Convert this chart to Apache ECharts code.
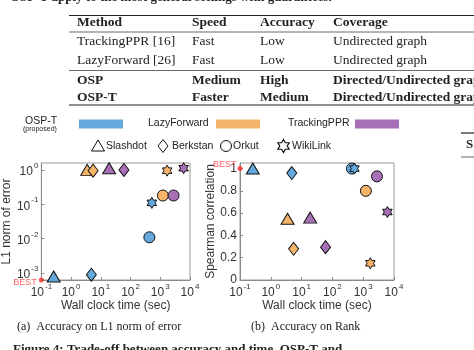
<!DOCTYPE html>
<html><head><meta charset="utf-8">
<script src="https://cdn.jsdelivr.net/npm/echarts@6/dist/echarts.min.js"></script>
<style>html,body{margin:0;padding:0;background:#fff;}#c{width:474px;height:350px;}</style>
</head><body><div id="c"></div>
<script>
// ---- data ----
const methods = ['OSP-T', 'LazyForward', 'TrackingPPR'];
const datasets = ['Slashdot', 'Berkstan', 'Orkut', 'WikiLink'];
// wall clock time (sec) per dataset [Slashdot, Berkstan, Orkut, WikiLink]
const timeOSPT = [0.26, 4.8, 430, 520];
const timeLazy = [3.5, 5.5, 1220, 1700];
const timeTracking = [19, 60, 2800, 6100];
// L1 norm of error
const l1OSPT = [0.0008, 0.0009, 0.011, 0.11];
const l1Lazy = [1.0, 0.95, 0.18, 0.95];
const l1Tracking = [1.12, 1.0, 0.18, 1.12];
// Spearman correlation
const rankOSPT = [1.0, 0.96, 1.0, 1.0];
const rankLazy = [0.55, 0.28, 0.80, 0.15];
const rankTracking = [0.56, 0.295, 0.93, 0.61];
// "BEST" reference points
const bestL1 = [0.1, 0.000631];
const bestRank = [0.1, 1.0];
// table
const tableHeader = ['Method', 'Speed', 'Accuracy', 'Coverage'];
const tableRows = [
  ['TrackingPPR [16]', 'Fast', 'Low', 'Undirected graph'],
  ['LazyForward [26]', 'Fast', 'Low', 'Undirected graph'],
  ['OSP', 'Medium', 'High', 'Directed/Undirected graph'],
  ['OSP-T', 'Faster', 'Medium', 'Directed/Undirected graph']
];
const captionA = '(a)  Accuracy on L1 norm of error';
const captionB = '(b)  Accuracy on Rank';

// ---- styles ----
const colors = ['#63a9dd', '#f6b46b', '#a66fb6'];
const SANS = '"Liberation Sans", Arial, sans-serif';
const SERIF = '"Liberation Serif", "DejaVu Serif", serif';
const starPath = 'path://M0,-10L2.887,-5L8.66,-5L5.774,0L8.66,5L2.887,5L0,10L-2.887,5L-8.66,5L-5.774,0L-8.66,-5L-2.887,-5Z';
const symbols = ['triangle', 'diamond', 'circle', starPath];
const sizes = [[13, 11], [10, 13], 11, 11];

const times = [timeOSPT, timeLazy, timeTracking];
const l1 = [l1OSPT, l1Lazy, l1Tracking];
const rank = [rankOSPT, rankLazy, rankTracking];

function supLabel(v) {
  const e = Math.round(Math.log10(v));
  return '{b|10}{s|' + e + '}';
}
const supRich = {
  b: { fontFamily: SANS, fontSize: 12, color: '#333', lineHeight: 16, verticalAlign: 'bottom' },
  s: { fontFamily: SANS, fontSize: 8, color: '#333', lineHeight: 16, verticalAlign: 'top', padding: [0, 0, 0, 1] }
};

function xAxis(gi) {
  return {
    type: 'log', gridIndex: gi, min: 0.1, max: 10000, logBase: 10,
    name: 'Wall clock time (sec)', nameLocation: 'middle', nameGap: 18,
    nameTextStyle: { fontFamily: SANS, fontSize: 12, color: '#333' },
    axisLine: { show: true, lineStyle: { color: '#8a8a8a', width: 1 } },
    axisTick: { show: true, inside: true, length: 3, lineStyle: { color: '#8a8a8a' } },
    axisLabel: { formatter: supLabel, rich: supRich, margin: 3 },
    splitLine: { show: false }
  };
}

const series = [];
[0, 1].forEach(gi => {
  datasets.forEach((ds, di) => {
    series.push({
      type: 'scatter', name: ds, xAxisIndex: gi, yAxisIndex: gi,
      symbol: symbols[di], symbolSize: sizes[di], symbolKeepAspect: true,
      clip: false,
      itemStyle: { borderColor: '#111', borderWidth: 1, opacity: 1 },
      data: methods.map((m, mi) => ({
        name: m,
        value: [times[mi][di], (gi === 0 ? l1 : rank)[mi][di]],
        itemStyle: { color: colors[mi] }
      }))
    });
  });
});
series.push({
  type: 'scatter', xAxisIndex: 0, yAxisIndex: 0, symbol: 'circle', symbolSize: 5, clip: false, z: 5,
  itemStyle: { color: '#ff2a2a' },
  label: { show: true, formatter: 'BEST', position: 'left', distance: 1, offset: [-1, 3], color: '#ff3b3b', fontFamily: SANS, fontSize: 9 },
  data: [bestL1]
});
series.push({
  type: 'scatter', xAxisIndex: 1, yAxisIndex: 1, symbol: 'circle', symbolSize: 5, clip: false, z: 5,
  itemStyle: { color: '#ff2a2a' },
  label: { show: true, formatter: 'BEST', position: 'left', distance: 1, offset: [0, -4], color: '#ff3b3b', fontFamily: SANS, fontSize: 9 },
  data: [bestRank]
});

// ---- graphic: table, legends, captions ----
const g = [];
const colX = [77, 192, 260, 333];
const rowY = [23, 41.5, 60, 80.5, 97.5];
g.push({ type: 'text', left: 10, top: -9, style: { text: 'OSP-T apply to the most general settings with guarantees.', font: 'bold 13px ' + SERIF, fill: '#222' } });
g.push({ type: 'line', shape: { x1: 69, y1: 15.5, x2: 474, y2: 15.5 }, style: { stroke: '#222', lineWidth: 1.2 } });
g.push({ type: 'line', shape: { x1: 69, y1: 32, x2: 474, y2: 32 }, style: { stroke: '#444', lineWidth: 0.8 } });
g.push({ type: 'line', shape: { x1: 69, y1: 70.5, x2: 474, y2: 70.5 }, style: { stroke: '#444', lineWidth: 0.8 } });
g.push({ type: 'line', shape: { x1: 69, y1: 105, x2: 474, y2: 105 }, style: { stroke: '#222', lineWidth: 1.2 } });
tableHeader.forEach((t, i) => g.push({ type: 'text', x: colX[i], y: rowY[0], style: { text: t, font: 'bold 13.5px ' + SERIF, fill: '#222', verticalAlign: 'middle' } }));
tableRows.forEach((r, ri) => r.forEach((t, i) => g.push({ type: 'text', x: colX[i], y: rowY[ri + 1], style: { text: t, font: (ri >= 2 ? 'bold ' : '') + '13.5px ' + SERIF, fill: '#222', verticalAlign: 'middle' } })));
// fragment of neighbouring table at right edge
g.push({ type: 'line', shape: { x1: 461, y1: 133, x2: 474, y2: 133 }, style: { stroke: '#222', lineWidth: 1.2 } });
g.push({ type: 'line', shape: { x1: 461, y1: 157, x2: 474, y2: 157 }, style: { stroke: '#444', lineWidth: 0.8 } });
g.push({ type: 'text', x: 466, y: 145, style: { text: 'S', font: 'bold 13px ' + SERIF, fill: '#222', verticalAlign: 'middle' } });

// legend row 1 (methods)
g.push({ type: 'text', x: 25, y: 121, style: { text: 'OSP-T', font: '10.5px ' + SANS, fill: '#222', verticalAlign: 'middle' } });
g.push({ type: 'text', x: 23, y: 129, style: { text: '(proposed)', font: '7px ' + SANS, fill: '#222', verticalAlign: 'middle' } });
const legRectX = [79, 216, 355];
const legTextX = [null, 148, 288];
methods.forEach((m, i) => {
  g.push({ type: 'rect', shape: { x: legRectX[i], y: 119.5, width: 44, height: 9 }, style: { fill: colors[i] } });
  if (legTextX[i] !== null) g.push({ type: 'text', x: legTextX[i], y: 123.5, style: { text: m, font: '10.5px ' + SANS, fill: '#222', verticalAlign: 'middle' } });
});
// legend row 2 (datasets)
const ly = 146;
g.push({ type: 'polygon', shape: { points: [[98, 140], [104.5, 151], [91.5, 151]] }, style: { fill: '#fff', stroke: '#111', lineWidth: 1 } });
g.push({ type: 'polygon', shape: { points: [[163, 139.5], [168, 146], [163, 152.5], [158, 146]] }, style: { fill: '#fff', stroke: '#111', lineWidth: 1 } });
g.push({ type: 'circle', shape: { cx: 226, cy: ly, r: 5.5 }, style: { fill: '#fff', stroke: '#111', lineWidth: 1 } });
(function () {
  const R = 6.5, r = R / Math.sqrt(3), cx = 283.5, cy = ly, pts = [];
  for (let k = 0; k < 12; k++) {
    const a = -Math.PI / 2 + k * Math.PI / 6;
    const rr = k % 2 === 0 ? R : r;
    pts.push([cx + rr * Math.cos(a), cy + rr * Math.sin(a)]);
  }
  g.push({ type: 'polygon', shape: { points: pts }, style: { fill: '#fff', stroke: '#111', lineWidth: 1.2 } });
})();
const dsTextX = [106, 172, 233, 292];
datasets.forEach((d, i) => g.push({ type: 'text', x: dsTextX[i], y: ly, style: { text: d, font: '10.5px ' + SANS, fill: '#222', verticalAlign: 'middle' } }));

// captions
g.push({ type: 'text', x: 17, y: 327, style: { text: captionA, font: '12px ' + SERIF, fill: '#222', verticalAlign: 'middle' } });
g.push({ type: 'text', x: 251, y: 327, style: { text: captionB, font: '12px ' + SERIF, fill: '#222', verticalAlign: 'middle' } });
g.push({ type: 'text', x: 13, y: 343, style: { text: 'Figure 4: Trade-off between accuracy and time. OSP-T and', font: 'bold 13px ' + SERIF, fill: '#222' } });

const option = {
  animation: false,
  backgroundColor: '#fff',
  grid: [
    { left: 36, top: 163, width: 154, height: 117, show: true, borderColor: '#9a9a9a', borderWidth: 1 },
    { left: 240, top: 163, width: 154, height: 117, show: true, borderColor: '#9a9a9a', borderWidth: 1 }
  ],
  xAxis: [xAxis(0), xAxis(1)],
  yAxis: [
    {
      type: 'log', gridIndex: 0, min: 0.000631, max: 1.585, logBase: 10,
      name: 'L1 norm of error', nameLocation: 'middle', nameGap: 21,
      nameTextStyle: { fontFamily: SANS, fontSize: 12, color: '#333' },
      axisLine: { show: true, lineStyle: { color: '#8a8a8a' } },
      axisTick: { show: true, inside: true, length: 3, lineStyle: { color: '#8a8a8a' } },
      axisLabel: { formatter: supLabel, rich: supRich, margin: 3, showMinLabel: false, showMaxLabel: false },
      splitLine: { show: false }
    },
    {
      type: 'value', gridIndex: 1, min: 0, max: 1.05, interval: 0.2,
      name: 'Spearman correlation', nameLocation: 'middle', nameGap: 21,
      nameTextStyle: { fontFamily: SANS, fontSize: 12, color: '#333' },
      axisLine: { show: true, lineStyle: { color: '#8a8a8a' } },
      axisTick: { show: true, inside: true, length: 3, lineStyle: { color: '#8a8a8a' } },
      axisLabel: { fontFamily: SANS, fontSize: 12, color: '#333', margin: 3, showMaxLabel: false },
      splitLine: { show: false }
    }
  ],
  series: series,
  graphic: g
};
const chart = echarts.init(document.getElementById('c'), null, { renderer: 'canvas' });
chart.setOption(option);
</script></body></html>
